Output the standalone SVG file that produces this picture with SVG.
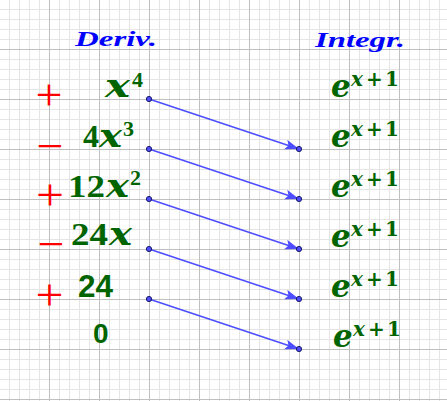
<svg xmlns="http://www.w3.org/2000/svg" width="447" height="401" viewBox="0 0 447 401">
<style>
.minor{stroke:#e5e5e5;stroke-width:1}
.major{stroke:#c0c0c0;stroke-width:1}
.hdr{font-family:"Liberation Serif",serif;font-weight:bold;font-style:italic;font-size:21px;fill:#0000ff}
.mi{font-family:"DejaVu Serif",serif;font-weight:bold;font-style:italic;font-size:31px;fill:#006400}
.md{font-family:"Liberation Serif",serif;font-weight:bold;font-size:32px;fill:#006400}
.sup{font-family:"Liberation Serif",serif;font-weight:bold;font-size:22px;fill:#006400}
.s{font-size:20px}
.up{font-style:normal}
.sb{font-family:"Liberation Sans",sans-serif;font-weight:bold;fill:#006400}
.sign{font-family:"Liberation Serif",serif;font-size:44px;fill:#ff0000;text-anchor:middle}
.arr{stroke:#4d4dff;stroke-width:1.4;fill:none}
.pt{fill:#4d4dff;stroke:#1a1a66;stroke-width:1}
</style>
<defs>
<marker id="ah" markerUnits="userSpaceOnUse" markerWidth="16" markerHeight="12" refX="14" refY="5" orient="auto">
<path d="M0,0 L14,5 L0,10 L3,5 Z" fill="#4d4dff"/>
</marker>
</defs>
<rect width="447" height="401" fill="#ffffff"/>
<g id="grid">
<g class="minor">
<path d="M9.5,0V401M19.5,0V401M29.5,0V401M39.5,0V401M59.5,0V401M69.5,0V401M79.5,0V401M89.5,0V401M109.5,0V401M119.5,0V401M129.5,0V401M139.5,0V401M159.5,0V401M169.5,0V401M179.5,0V401M189.5,0V401M209.5,0V401M219.5,0V401M229.5,0V401M239.5,0V401M259.5,0V401M269.5,0V401M279.5,0V401M289.5,0V401M309.5,0V401M319.5,0V401M329.5,0V401M339.5,0V401M359.5,0V401M369.5,0V401M379.5,0V401M389.5,0V401M409.5,0V401M419.5,0V401M429.5,0V401M439.5,0V401"/>
<path d="M0,9.5H447M0,19.5H447M0,29.5H447M0,39.5H447M0,59.5H447M0,69.5H447M0,79.5H447M0,89.5H447M0,109.5H447M0,119.5H447M0,129.5H447M0,139.5H447M0,159.5H447M0,169.5H447M0,179.5H447M0,189.5H447M0,209.5H447M0,219.5H447M0,229.5H447M0,239.5H447M0,259.5H447M0,269.5H447M0,279.5H447M0,289.5H447M0,309.5H447M0,319.5H447M0,329.5H447M0,339.5H447M0,359.5H447M0,369.5H447M0,379.5H447M0,389.5H447"/>
</g>
<g class="major">
<path d="M49.5,0V401M99.5,0V401M149.5,0V401M199.5,0V401M249.5,0V401M299.5,0V401M349.5,0V401M399.5,0V401"/>
<path d="M0,49.5H447M0,99.5H447M0,149.5H447M0,199.5H447M0,249.5H447M0,299.5H447M0,349.5H447M0,399.5H447"/>
</g>
</g>
<g id="headers">
<text class="hdr" x="75" y="46" textLength="82" lengthAdjust="spacingAndGlyphs">Deriv.</text>
<text class="hdr" x="315" y="47" textLength="90" lengthAdjust="spacingAndGlyphs">Integr.</text>
</g>
<g id="signs">
<text class="sign" x="49" y="110" textLength="27" lengthAdjust="spacingAndGlyphs">+</text>
<text class="sign" x="50" y="161" textLength="27" lengthAdjust="spacingAndGlyphs">−</text>
<text class="sign" x="50" y="210" textLength="28" lengthAdjust="spacingAndGlyphs">+</text>
<text class="sign" x="51" y="259" textLength="27" lengthAdjust="spacingAndGlyphs">−</text>
<text class="sign" x="49.5" y="310" textLength="28" lengthAdjust="spacingAndGlyphs">+</text>
</g>
<g id="connectors">
<line class="arr" x1="149" y1="99" x2="299" y2="149" marker-end="url(#ah)"/>
<line class="arr" x1="149" y1="149" x2="299" y2="199" marker-end="url(#ah)"/>
<line class="arr" x1="149" y1="199" x2="299" y2="249" marker-end="url(#ah)"/>
<line class="arr" x1="149" y1="249" x2="299" y2="299" marker-end="url(#ah)"/>
<line class="arr" x1="149" y1="299" x2="299" y2="349" marker-end="url(#ah)"/>
</g>
<g id="points">
<circle class="pt" cx="149" cy="99" r="2.6"/>
<circle class="pt" cx="149" cy="149" r="2.6"/>
<circle class="pt" cx="149" cy="199" r="2.6"/>
<circle class="pt" cx="149" cy="249" r="2.6"/>
<circle class="pt" cx="149" cy="299" r="2.6"/>
<circle class="pt" cx="299" cy="149" r="2.6"/>
<circle class="pt" cx="299" cy="199" r="2.6"/>
<circle class="pt" cx="299" cy="249" r="2.6"/>
<circle class="pt" cx="299" cy="299" r="2.6"/>
<circle class="pt" cx="299" cy="349" r="2.6"/>
</g>
<g id="d1">
<text class="mi" x="105" y="97" textLength="25" lengthAdjust="spacingAndGlyphs">x</text>
<text class="sup" x="132" y="87">4</text>
</g>
<g id="d2">
<text class="md" x="83" y="147">4</text>
<text class="mi" x="99" y="147" textLength="23" lengthAdjust="spacingAndGlyphs">x</text>
<text class="sup" x="123" y="136">3</text>
</g>
<g id="d3">
<text class="md" x="68" y="197" textLength="37" lengthAdjust="spacingAndGlyphs">12</text>
<text class="mi" x="106" y="197" textLength="23" lengthAdjust="spacingAndGlyphs">x</text>
<text class="sup" x="130" y="185">2</text>
</g>
<g id="d4">
<text class="md" x="71" y="245" textLength="37" lengthAdjust="spacingAndGlyphs">24</text>
<text class="mi" x="109" y="245" textLength="23" lengthAdjust="spacingAndGlyphs">x</text>
</g>
<g id="d5">
<text class="sb" x="78" y="297" font-size="32" textLength="35" lengthAdjust="spacingAndGlyphs">24</text>
</g>
<g id="d6">
<text class="sb" x="93" y="343" font-size="28">0</text>
</g>
<g id="i1"><text class="mi" y="97"><tspan x="331">e</tspan><tspan class="s" x="351" y="86">x</tspan><tspan class="s up" x="366">+</tspan><tspan class="s up" x="385">1</tspan></text></g>
<g id="i2"><text class="mi" y="147"><tspan x="331">e</tspan><tspan class="s" x="351" y="136">x</tspan><tspan class="s up" x="366">+</tspan><tspan class="s up" x="385">1</tspan></text></g>
<g id="i3"><text class="mi" y="197"><tspan x="331">e</tspan><tspan class="s" x="351" y="186">x</tspan><tspan class="s up" x="366">+</tspan><tspan class="s up" x="385">1</tspan></text></g>
<g id="i4"><text class="mi" y="247"><tspan x="331">e</tspan><tspan class="s" x="351" y="236">x</tspan><tspan class="s up" x="366">+</tspan><tspan class="s up" x="385">1</tspan></text></g>
<g id="i5"><text class="mi" y="297"><tspan x="331">e</tspan><tspan class="s" x="351" y="286">x</tspan><tspan class="s up" x="366">+</tspan><tspan class="s up" x="385">1</tspan></text></g>
<g id="i6"><text class="mi" y="347"><tspan x="333">e</tspan><tspan class="s" x="353" y="336">x</tspan><tspan class="s up" x="368">+</tspan><tspan class="s up" x="387">1</tspan></text></g>
</svg>
